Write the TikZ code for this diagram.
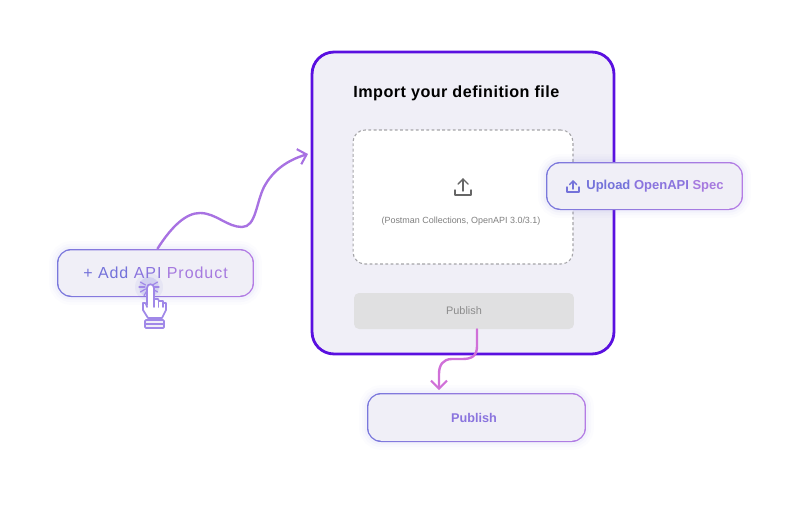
\documentclass[tikz,border=0pt]{standalone}
\usepackage{fontspec}
\setmainfont{Liberation Sans}
\newfontfamily\widefont[LetterSpace=6]{Liberation Sans}
\newfontfamily\titlefont[LetterSpace=3]{Liberation Sans}
\usetikzlibrary{arrows.meta}
\definecolor{cardfill}{HTML}{F0EFF7}
\definecolor{cardline}{HTML}{5A10E0}
\definecolor{btnleft}{HTML}{7A78DC}
\definecolor{btnright}{HTML}{B47CE4}
\definecolor{txtleft}{HTML}{7472DA}
\definecolor{txtmid}{HTML}{8A74DE}
\definecolor{txtright}{HTML}{A67ADF}
\definecolor{dashgrey}{HTML}{A5A5A8}
\definecolor{disabled}{HTML}{E0E0E1}
\definecolor{handline}{HTML}{A088E8}
\definecolor{flowupper}{HTML}{A872E2}
\definecolor{flowlower}{HTML}{D070D8}
\tikzset{
    btnedge/.style={rounded corners=0.28cm, inner sep=0pt, left color=btnleft, right color=btnright,
        preaction={draw=btnleft, line width=9pt, opacity=.02},
        preaction={draw=btnleft, line width=6pt, opacity=.03},
        preaction={draw=btnleft, line width=3pt, opacity=.05}},
    btnface/.style={rounded corners=0.26cm, inner sep=0pt, fill=cardfill},
    flow/.style={line width=1.35pt, line cap=round, -{Straight Barb[length=4.5pt,width=9pt,line width=1.2pt]}},
    iconline/.style={line width=.8pt, line cap=round, line join=round}
}
\begin{document}
\begin{tikzpicture}[x=0.02cm, y=-0.02cm]
    \useasboundingbox (0,0) rectangle (800,504);

    % Tarjeta principal
    \node[draw=cardline, line width=1.6pt, fill=cardfill, rounded corners=0.44cm, minimum width=6.04cm, minimum height=6.04cm, inner sep=0pt] (card) at (463,203) {};
    \node[anchor=base west, font=\titlefont\fontsize{9.2}{11}\selectfont\bfseries, text=black, inner sep=0pt] (title) at (353,97) {Import your definition file};

    % Zona de carga
    \node[draw=dashgrey, dash pattern=on 1.6pt off 1.4pt, line width=.6pt, fill=white, rounded corners=0.24cm, minimum width=4.4cm, minimum height=2.68cm, inner sep=0pt] (dropzone) at (463,197) {};
    \node[font=\fontsize{5.1}{6}\selectfont, text=black!50, inner sep=0pt] (hint) at (461,221) {(Postman Collections, OpenAPI 3.0/3.1)};
    \draw[iconline, draw=black!60] (455,190) -- (455,195) -- (471,195) -- (471,190);
    \draw[iconline, draw=black!60] (463,191) -- (463,179);
    \draw[iconline, draw=black!60] (458,184) -- (463,179) -- (468,184);

    % Boton desactivado
    \node[fill=disabled, rounded corners=0.1cm, minimum width=4.4cm, minimum height=0.72cm, inner sep=0pt, font=\fontsize{6.2}{8}\selectfont, text=black!45] (greybtn) at (464,311) {Publish};

    % Boton de subida
    \node[btnedge, minimum width=3.94cm, minimum height=0.96cm] (uploadedge) at (644.5,186) {};
    \node[btnface, minimum width=3.89cm, minimum height=0.91cm, font=\fontsize{7.4}{9}\selectfont\bfseries] (uploadbtn) at (uploadedge) {\hspace{0.42cm}{\color{txtleft}Upload} {\color{txtmid}OpenAPI} {\color{txtright}Spec}};
    \draw[iconline, draw=txtleft] (567,187) -- (567,192) -- (579,192) -- (579,187);
    \draw[iconline, draw=txtleft] (573,189) -- (573,181);
    \draw[iconline, draw=txtleft] (569.5,184.5) -- (573,181) -- (576.5,184.5);

    % Boton de producto
    \node[btnedge, minimum width=3.94cm, minimum height=0.96cm] (addedge) at (155.5,273) {};
    \node[btnface, minimum width=3.89cm, minimum height=0.91cm, font=\widefont\fontsize{9.1}{10}\selectfont] (addbtn) at (addedge) {{\color{txtleft}+ Add} {\color{txtmid}API} {\color{txtright}Product}};

    % Boton final
    \node[btnedge, minimum width=4.38cm, minimum height=0.98cm] (publishedge) at (476.5,417.5) {};
    \node[btnface, minimum width=4.33cm, minimum height=0.93cm, font=\fontsize{7.2}{9}\selectfont\bfseries, text=txtmid] (publishbtn) at (publishedge) {\raisebox{-0.03cm}{\hspace{-0.1cm}Publish}};

    % Flechas
    \coordinate (cardin) at (308,154);
    \coordinate (publishin) at (439,390);
    \draw[flow, draw=flowupper] (addedge.north) ++(2,0) .. controls (172,226) and (186,213) .. (200,213) .. controls (216,213) and (227,227) .. (242,227) .. controls (256,227) and (256,203) .. (264,187) .. controls (273,170) and (288,160) .. (cardin);
    \draw[flow, draw=flowlower] (greybtn.south -| 477,0) -- (477,346) .. controls (477,356) and (472,359) .. (462,359) -- (452,359) .. controls (443,359) and (439,365) .. (439,374) -- (publishin);

    % Mano
    \fill[btnleft, opacity=.18] (149,287) circle (10);
    \fill[btnleft, opacity=.08] (149,287) circle (14);
    \foreach \a in {30,60,120,150,180,210,330,0} {
        \draw[iconline, draw=handline, line width=.7pt] (149,287) ++(\a:4) -- ++(\a:6);
    }
    \draw[iconline, draw=handline, line width=1pt, fill=white] (147,305) -- (147,288) .. controls (147,283) and (154,283) .. (154,288) -- (154,299) -- (158,299) -- (159,301) -- (163,301) -- (163,303) -- (166,303) -- (166,310) -- (162,318) -- (148,318) -- (143,310) -- (143,303) .. controls (145,302) and (146,303) .. (147,307);
    \draw[iconline, draw=handline, line width=1pt] (158.5,300) -- (158.5,307) (163,302) -- (163,307) (154,299) -- (154,307);
    \draw[iconline, draw=handline, line width=1pt, fill=cardfill, rounded corners=0.02cm] (145,320) rectangle (164,328);
    \draw[iconline, draw=handline, line width=1pt] (145,324) -- (164,324);
\end{tikzpicture}
\end{document}
